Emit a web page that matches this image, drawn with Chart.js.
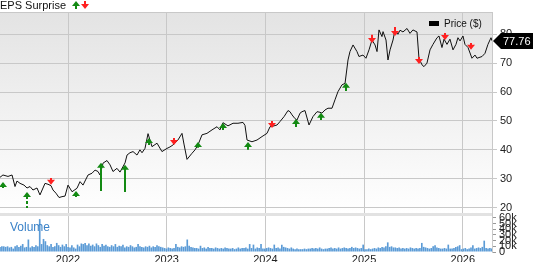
<!DOCTYPE html>
<html>
<head>
<meta charset="utf-8">
<script src="https://cdn.jsdelivr.net/npm/chart.js@4.4.1/dist/chart.umd.min.js"></script>
<style>
  html, body { margin: 0; padding: 0; background: #fff; }
  #wrap { position: relative; width: 533px; height: 262px; }
</style>
</head>
<body>
<div id="wrap"><canvas id="chart" width="533" height="262"></canvas></div>
<script>
// price line (decimal year, $)
const priceDates = [
  2021.311, 2021.341, 2021.392, 2021.433, 2021.463, 2021.483, 2021.514, 2021.554, 2021.585, 2021.615,
  2021.645, 2021.686, 2021.716, 2021.767, 2021.797, 2021.828, 2021.848, 2021.878, 2021.909, 2021.939, 2021.970,
  2022.000, 2022.041, 2022.091, 2022.122, 2022.152, 2022.203, 2022.243, 2022.274, 2022.304, 2022.324,
  2022.355, 2022.395, 2022.426, 2022.456, 2022.496, 2022.527, 2022.578, 2022.598, 2022.628, 2022.659,
  2022.699, 2022.729, 2022.750, 2022.780, 2022.811, 2022.851, 2022.902, 2022.952,
  2023.003, 2023.033, 2023.064, 2023.114, 2023.155, 2023.175, 2023.206, 2023.256, 2023.287, 2023.317,
  2023.358, 2023.408, 2023.459, 2023.510, 2023.540, 2023.570, 2023.621, 2023.672, 2023.722, 2023.773,
  2023.793, 2023.814, 2023.864, 2023.915, 2023.966,
  2024.016, 2024.047, 2024.087, 2024.118, 2024.148, 2024.189, 2024.229, 2024.249, 2024.270, 2024.300,
  2024.320, 2024.351, 2024.371, 2024.401, 2024.442, 2024.482, 2024.523, 2024.553, 2024.573, 2024.604,
  2024.634, 2024.675, 2024.705, 2024.735, 2024.776, 2024.807, 2024.837, 2024.857, 2024.888, 2024.928,
  2024.948, 2024.989,
  2025.019, 2025.050, 2025.080, 2025.111, 2025.131, 2025.151, 2025.181, 2025.192, 2025.222, 2025.242,
  2025.263, 2025.293, 2025.313, 2025.343, 2025.364, 2025.394, 2025.435, 2025.465, 2025.495, 2025.536,
  2025.556, 2025.587, 2025.607, 2025.637, 2025.668, 2025.698, 2025.739, 2025.759, 2025.789, 2025.810,
  2025.840, 2025.870, 2025.901, 2025.931, 2025.951, 2025.972,
  2026.002, 2026.022, 2026.053, 2026.093, 2026.124, 2026.144, 2026.195, 2026.225, 2026.255, 2026.286, 2026.296
];
const priceValues = [
  30.5, 31.3, 30.8, 31.3, 27.3, 29.2, 28.4, 27.8, 26.8, 27.3,
  26.1, 26.8, 24.4, 28.4, 28.1, 27.6, 26.1, 25.0, 23.5, 23.8, 24.0,
  27.8, 25.5, 26.7, 29.0, 27.8, 31.3, 31.9, 33.0, 32.5, 31.3,
  35.4, 36.3, 34.8, 32.5, 33.6, 32.3, 35.5, 38.2, 39.0, 39.4,
  38.2, 40.0, 39.0, 40.5, 45.6, 41.1, 42.3, 39.4,
  40.5, 41.0, 41.7, 43.4, 45.7, 42.0, 36.7, 38.8, 40.0, 41.7,
  45.2, 45.7, 46.9, 48.0, 46.9, 49.4, 48.3, 49.2, 49.2, 49.5,
  48.5, 43.4, 42.8, 43.4, 44.6,
  45.7, 48.0, 48.3, 48.6, 49.8, 51.5, 53.6, 53.2, 52.1, 50.8,
  50.3, 52.7, 53.2, 53.6, 48.6, 51.5, 53.2, 53.0, 52.7, 53.8,
  54.4, 54.4, 57.3, 60.1, 62.5, 63.0, 71.1, 74.0, 76.3, 74.0,
  72.3, 72.8,
  71.7, 74.6, 78.0, 76.3, 74.0, 81.5, 79.2, 80.9, 78.0, 71.1,
  74.6, 78.0, 81.5, 80.0, 81.4, 80.8, 82.0, 80.3, 81.5, 80.8,
  71.7, 69.4, 68.8, 70.0, 74.6, 76.5, 78.8, 79.4, 75.4, 78.3,
  76.5, 78.3, 74.6, 76.5, 78.8, 77.7,
  79.4, 76.5, 75.4, 71.7, 72.8, 71.7, 72.3, 73.4, 76.5, 78.8, 77.76
];
const lastPrice = 77.76;

// weekly volume (thousands), first week starts at volumeStart
const volumeStart = 2021.311;
const volumeValues = [
  9, 10, 10, 9, 10, 8, 9, 6, 10, 12, 9, 11, 14, 8, 9, 22, 8, 10, 9, 12,
  10, 58, 14, 23, 19, 12, 10, 14, 9, 10, 16, 12, 9, 13, 10, 14, 9, 8, 12, 8,
  6, 13, 10, 15, 14, 16, 12, 15, 11, 13, 10, 15, 12, 9, 14, 11, 13, 10, 9, 12,
  10, 14, 9, 11, 10, 13, 8, 10, 9, 12, 10, 8, 9, 14, 10, 9, 8, 10, 9, 11,
  8, 10, 9, 12, 10, 9, 8, 7, 6, 8, 7, 6, 7, 14, 9, 8, 10, 9, 10, 22,
  11, 9, 8, 7, 7, 6, 11, 7, 8, 6, 9, 7, 7, 6, 8, 7, 6, 7, 6, 8,
  7, 6, 6, 7, 5, 6, 8, 6, 7, 7, 8, 6, 14, 7, 13, 6, 8, 7, 14, 6,
  6, 7, 8, 7, 6, 13, 7, 8, 6, 13, 9, 8, 7, 6, 8, 6, 5, 6, 5, 5,
  5, 6, 5, 6, 6, 7, 6, 7, 6, 8, 6, 5, 6, 6, 7, 8, 6, 7, 6, 8,
  6, 7, 8, 7, 6, 7, 9, 7, 8, 7, 6, 7, 13, 5, 5, 6, 5, 6, 7, 6,
  8, 7, 9, 8, 10, 17, 9, 10, 8, 8, 7, 8, 6, 7, 6, 7, 6, 8, 7, 6,
  7, 6, 7, 16, 9, 8, 7, 6, 7, 10, 12, 8, 7, 6, 6, 7, 6, 13, 6, 6,
  7, 9, 10, 12, 5, 6, 7, 5, 6, 8, 12, 6, 7, 8, 7, 9, 20, 7, 6, 7,
  6, 8
];

// EPS surprise arrows: date, price at arrow head, price at tail
const beatDates = [2021.34, 2021.58, 2022.08, 2022.33, 2022.58, 2022.82, 2023.32, 2023.57, 2023.82, 2024.31, 2024.56, 2024.82];
const beatHead  = [28.9, 25.4, 25.8, 35.5, 34.8, 44.1, 42.7, 49.3, 42.7, 50.7, 52.8, 63.2];
const beatTail  = [26.8, 19.9, 23.7, 25.8, 25.4, 41.7, 40.7, 46.9, 40.0, 47.9, 50.3, 60.4];
const beatDashed = [false, true, false, false, false, false, false, false, false, false, false, false];
const missDates = [2021.83, 2023.07, 2024.07, 2025.08, 2025.31, 2025.56, 2025.82, 2026.08];
const missHead  = [27.9, 41.7, 47.6, 77.0, 79.4, 69.7, 78.0, 74.6];
const missTail  = [30.3, 44.1, 50.0, 79.8, 82.5, 72.1, 80.4, 77.0];

const yearTicks = [2022, 2023, 2024, 2025, 2026];
const priceTicks = [20, 30, 40, 50, 60, 70, 80];
const volumeTicks = [0, 10, 20, 30, 40, 50, 60];

const GREEN = '#138a13';
const RED = '#ff2020';
const GRID = '#c8c8c8';
const FONT = '"Liberation Sans", Arial, sans-serif';

Chart.defaults.font.family = FONT;
Chart.defaults.font.size = 11;
Chart.defaults.color = '#222';

function drawArrow(ctx, x, yHead, yTail, color, dashed) {
  const dir = yHead < yTail ? 1 : -1;
  ctx.save();
  ctx.fillStyle = color;
  ctx.strokeStyle = color;
  ctx.lineWidth = 2;
  if (dashed) ctx.setLineDash([3, 2]);
  ctx.beginPath();
  ctx.moveTo(x, yHead + dir * 4);
  ctx.lineTo(x, yTail);
  ctx.stroke();
  ctx.setLineDash([]);
  ctx.beginPath();
  ctx.moveTo(x, yHead);
  ctx.lineTo(x - 4, yHead + dir * 5);
  ctx.lineTo(x + 4, yHead + dir * 5);
  ctx.closePath();
  ctx.fill();
  ctx.restore();
}

const panels = {
  id: 'panels',
  beforeDraw(chart) {
    const ctx = chart.ctx;
    const y = chart.scales.y;
    const area = chart.chartArea;
    const g = ctx.createLinearGradient(0, y.top, 0, y.bottom);
    g.addColorStop(0, '#e3e3e3');
    g.addColorStop(1, '#ffffff');
    ctx.save();
    ctx.fillStyle = g;
    ctx.fillRect(area.left, y.top, area.right - area.left, y.bottom - y.top);
    ctx.restore();
  },
  afterDraw(chart) {
    const ctx = chart.ctx;
    const x = chart.scales.x;
    const y = chart.scales.y;
    const yVol = chart.scales.yVol;
    const area = chart.chartArea;
    ctx.save();
    // panel separator and top border
    ctx.fillStyle = '#e2e2e2';
    ctx.fillRect(area.left, yVol.top - 1, area.right - area.left, 3);
    ctx.strokeStyle = GRID;
    ctx.lineWidth = 1;
    ctx.beginPath();
    ctx.moveTo(area.left, area.top + 0.5);
    ctx.lineTo(area.right, area.top + 0.5);
    ctx.stroke();

    // EPS arrows
    beatDates.forEach((d, i) => {
      drawArrow(ctx, Math.round(x.getPixelForValue(d)), y.getPixelForValue(beatHead[i]), y.getPixelForValue(beatTail[i]), GREEN, beatDashed[i]);
    });
    missDates.forEach((d, i) => {
      drawArrow(ctx, Math.round(x.getPixelForValue(d)), y.getPixelForValue(missHead[i]), y.getPixelForValue(missTail[i]), RED, false);
    });

    // title
    ctx.fillStyle = '#111';
    ctx.font = '11px ' + FONT;
    ctx.textBaseline = 'alphabetic';
    ctx.textAlign = 'left';
    ctx.fillText('EPS Surprise', 0, 9);
    const tw = ctx.measureText('EPS Surprise').width;
    drawArrow(ctx, tw + 10, 1, 9, GREEN, false);
    drawArrow(ctx, tw + 19, 9, 1, RED, false);

    // legend
    ctx.fillStyle = '#000';
    ctx.fillRect(429, 21, 10, 5);
    ctx.font = '10px ' + FONT;
    ctx.fillStyle = '#111';
    ctx.fillText('Price ($)', 444, 27);

    // volume label
    ctx.font = '12px ' + FONT;
    ctx.fillStyle = '#3a82c8';
    ctx.fillText('Volume', 10, 231);

    // last price tag
    const yc = Math.round(y.getPixelForValue(lastPrice));
    const left = area.right + 1;
    ctx.fillStyle = '#000';
    ctx.beginPath();
    ctx.moveTo(left, yc);
    ctx.lineTo(left + 8, yc - 8);
    ctx.lineTo(533, yc - 8);
    ctx.lineTo(533, yc + 8);
    ctx.lineTo(left + 8, yc + 8);
    ctx.closePath();
    ctx.fill();
    ctx.fillStyle = '#fff';
    ctx.font = '11px ' + FONT;
    ctx.textBaseline = 'middle';
    ctx.fillText(lastPrice.toFixed(2), left + 10, yc + 1);
    ctx.restore();
  }
};

new Chart(document.getElementById('chart'), {
  type: 'line',
  data: {
    datasets: [
      {
        type: 'bar',
        label: 'Volume',
        data: volumeValues.map((v, i) => ({ x: volumeStart + i * 7 / 365.25, y: v })),
        yAxisID: 'yVol',
        backgroundColor: '#5b9bd6',
        borderWidth: 0,
        barPercentage: 1,
        categoryPercentage: 0.88
      },
      {
        label: 'Price ($)',
        data: priceDates.map((d, i) => ({ x: d, y: priceValues[i] })),
        yAxisID: 'y',
        borderColor: '#111',
        borderWidth: 1,
        pointRadius: 0,
        tension: 0,
        fill: false
      }
    ]
  },
  options: {
    responsive: false,
    animation: false,
    devicePixelRatio: 1,
    layout: { padding: { top: 12, left: 0, right: 0, bottom: 0 } },
    plugins: { legend: { display: false }, tooltip: { enabled: false } },
    scales: {
      x: {
        type: 'linear',
        min: 2021.311,
        max: 2026.296,
        offset: false,
        grid: { color: GRID, drawTicks: false, offset: false },
        border: { display: false },
        afterBuildTicks: s => { s.ticks = yearTicks.map(v => ({ value: v })); },
        afterFit: s => { s.height = 10; },
        ticks: { padding: 1, maxRotation: 0, autoSkip: false, callback: v => String(v) }
      },
      y: {
        type: 'linear',
        position: 'right',
        stack: 'panel',
        stackWeight: 202,
        min: 17.8,
        max: 87.7,
        grid: { color: GRID, tickLength: 5 },
        border: { color: GRID },
        afterBuildTicks: s => { s.ticks = priceTicks.map(v => ({ value: v })); },
        afterFit: s => { s.width = 41; },
        ticks: { padding: 3, autoSkip: false, callback: v => String(v) }
      },
      yVol: {
        type: 'linear',
        position: 'right',
        stack: 'panel',
        stackWeight: 38,
        min: 0,
        max: 67,
        grid: { drawOnChartArea: false, color: '#999', tickLength: 4 },
        border: { color: GRID },
        afterBuildTicks: s => { s.ticks = volumeTicks.map(v => ({ value: v })); },
        afterFit: s => { s.width = 41; },
        ticks: { padding: 3, autoSkip: false, callback: v => v === 0 ? '0' : v + 'k' }
      }
    }
  },
  plugins: [panels]
});
</script>
</body>
</html>
